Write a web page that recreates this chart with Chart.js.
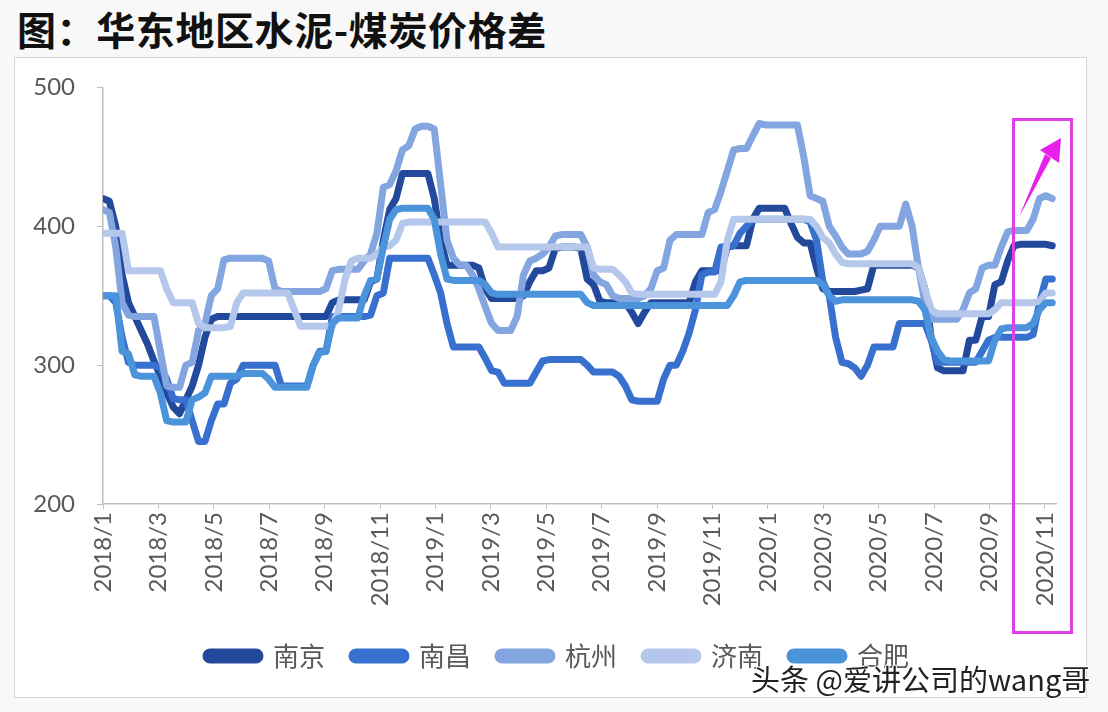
<!DOCTYPE html>
<html>
<head>
<meta charset="utf-8">
<script src="https://cdn.jsdelivr.net/npm/chart.js@4/dist/chart.umd.min.js"></script>
<style>
  body { margin: 0; background: #f8f8f8; width: 1108px; height: 712px; overflow: hidden; position: relative; }
  #title { position: absolute; left: 17px; top: 9px; font: bold 39px "Noto Sans CJK SC", sans-serif; line-height: 1; color: #111; letter-spacing: 0.6px; }
  #box { position: absolute; left: 14px; top: 57px; width: 1073px; height: 641px; border: 1px solid #d4d4d4; box-sizing: border-box; background: #fff; }
  #chart { position: absolute; left: 0; top: -7px; }
  #mark { position: absolute; left: 0; top: 0; }
  #wm { position: absolute; left: 751px; top: 661px; font: 29px "Noto Sans CJK SC", sans-serif; color: #222; line-height: 1.2;
        text-shadow: -1px -1px 0 #fff, 1px -1px 0 #fff, -1px 1px 0 #fff, 1px 1px 0 #fff; }
</style>
</head>
<body>
<div id="title">图：华东地区水泥-煤炭价格差</div>
<div id="box"><canvas id="chart" width="1071" height="646"></canvas></div>
<svg id="mark" width="1108" height="712">
  <rect x="1013.5" y="119.5" width="58" height="513" fill="none" stroke="#df3fe6" stroke-width="3"/>
  <polygon points="1019,217 1045,154 1051,158" fill="#e91fec"/>
  <polygon points="1061,138 1040,150 1059,163" fill="#e91fec"/>
</svg>
<div id="wm">头条 @爱讲公司的wang哥</div>
<script>
// 周度数据，2018年1月第一周起
const cities = ['南京', '南昌', '杭州', '济南', '合肥'];
const colors = ['#22499b', '#3870cf', '#83a5e0', '#b5c8eb', '#4b94dc'];
const monthTicks = ['2018/1', '2018/3', '2018/5', '2018/7', '2018/9', '2018/11',
    '2019/1', '2019/3', '2019/5', '2019/7', '2019/9', '2019/11',
    '2020/1', '2020/3', '2020/5', '2020/7', '2020/9', '2020/11'];

const nanjing = [
    420, 418, 400, 365, 345, 335, 325, 315, 303, 292,
    280, 270, 265, 275, 285, 300, 320, 333, 335, 335,
    335, 335, 335, 335, 335, 335, 335, 335, 335, 335,
    335, 335, 335, 335, 335, 335, 345, 347, 347, 347,
    347, 347, 360, 362, 390, 412, 420, 438, 438, 438,
    438, 438, 420, 390, 372, 372, 372, 372, 372, 370,
    355, 348, 348, 348, 348, 348, 350, 360, 368, 368,
    370, 384, 385, 385, 385, 384, 362, 358, 346, 345,
    345, 345, 345, 338, 330, 338, 345, 345, 345, 345,
    345, 345, 345, 360, 368, 368, 368, 368, 385, 386,
    386, 386, 405, 413, 413, 413, 413, 413, 402, 392,
    388, 388, 370, 355, 353, 353, 353, 353, 353, 354,
    355, 372, 372, 372, 372, 372, 372, 372, 370, 355,
    320, 298, 296, 296, 296, 296, 318, 318, 335, 335,
    358, 360, 375, 386, 387, 387, 387, 387, 387, 386
];
const nanchang = [
    350, 350, 345, 320, 302, 300, 300, 300, 300, 298,
    290, 276, 275, 275, 260, 245, 245, 260, 272, 272,
    287, 290, 300, 300, 300, 300, 300, 300, 285, 285,
    285, 285, 285, 300, 310, 310, 335, 335, 335, 335,
    335, 335, 336, 350, 352, 377, 377, 377, 377, 377,
    377, 377, 365, 352, 330, 313, 313, 313, 313, 313,
    305, 296, 295, 287, 287, 287, 287, 287, 295, 303,
    304, 304, 304, 304, 304, 304, 300, 295, 295, 295,
    295, 292, 285, 275, 274, 274, 274, 274, 290, 300,
    300, 310, 323, 340, 365, 367, 367, 385, 386, 386,
    395, 400, 405, 405, 405, 405, 405, 405, 405, 405,
    405, 403, 390, 360, 350, 320, 302, 301, 298, 292,
    300, 313, 313, 313, 313, 330, 330, 330, 330, 330,
    318, 302, 302, 302, 302, 302, 302, 302, 310, 318,
    320, 320, 320, 320, 320, 320, 322, 345, 362, 362
];
const hangzhou = [
    412, 410, 385, 345, 336, 335, 335, 335, 335, 310,
    285, 284, 284, 300, 302, 325, 330, 350, 355, 376,
    377, 377, 377, 377, 377, 377, 375, 355, 353, 353,
    353, 353, 353, 353, 353, 355, 368, 369, 369, 369,
    369, 375, 380, 395, 428, 430, 440, 455, 458, 470,
    472, 472, 470, 430, 390, 377, 372, 372, 365, 355,
    342, 330, 325, 325, 325, 335, 365, 375, 377, 380,
    385, 393, 394, 394, 394, 394, 385, 365, 360, 358,
    350, 348, 348, 348, 348, 350, 355, 368, 370, 390,
    394, 394, 394, 394, 394, 410, 412, 425, 440, 455,
    456, 456, 465, 474, 473, 473, 473, 473, 473, 473,
    450, 422, 420, 418, 400, 393, 385, 380, 380, 380,
    382, 390, 400, 400, 400, 400, 416, 400, 370, 345,
    333, 333, 333, 333, 333, 340, 352, 355, 370, 372,
    372, 385, 396, 397, 397, 397, 405, 420, 422, 420
];
const jinan = [
    395, 395, 395, 395, 368, 368, 368, 368, 368, 368,
    355, 345, 345, 345, 345, 330, 327, 327, 327, 327,
    328, 345, 352, 352, 352, 352, 352, 352, 352, 352,
    340, 328, 328, 328, 328, 328, 328, 340, 362, 375,
    377, 377, 377, 380, 385, 386, 390, 402, 403, 403,
    403, 403, 403, 403, 403, 403, 403, 403, 403, 403,
    403, 395, 385, 385, 385, 385, 385, 385, 385, 385,
    385, 385, 385, 385, 385, 385, 385, 370, 369, 369,
    369, 365, 360, 352, 351, 351, 351, 351, 351, 351,
    351, 351, 351, 351, 351, 351, 351, 360, 390, 405,
    405, 405, 405, 405, 405, 405, 405, 405, 405, 405,
    405, 405, 400, 392, 388, 380, 374, 373, 373, 373,
    373, 373, 373, 373, 373, 373, 373, 373, 370, 355,
    340, 337, 337, 337, 337, 337, 337, 337, 337, 337,
    340, 345, 345, 345, 345, 345, 345, 346, 352, 352
];
const hefei = [
    350, 350, 350, 310, 308, 293, 292, 292, 292, 280,
    260, 259, 259, 259, 275, 277, 280, 292, 292, 292,
    292, 292, 294, 294, 294, 294, 290, 284, 284, 284,
    284, 284, 284, 300, 309, 310, 330, 334, 334, 334,
    334, 350, 361, 362, 385, 405, 412, 413, 413, 413,
    413, 413, 405, 380, 362, 361, 361, 361, 361, 361,
    358, 352, 351, 351, 351, 351, 351, 351, 351, 351,
    351, 351, 351, 351, 351, 351, 345, 343, 343, 343,
    343, 343, 343, 343, 343, 343, 343, 343, 343, 343,
    343, 343, 343, 343, 343, 343, 343, 343, 343, 350,
    360, 361, 361, 361, 361, 361, 361, 361, 361, 361,
    361, 361, 361, 358, 350, 346, 347, 347, 347, 347,
    347, 347, 347, 347, 347, 347, 347, 347, 346, 340,
    320, 310, 304, 303, 303, 303, 303, 303, 303, 303,
    318, 326, 327, 327, 327, 327, 330, 340, 345, 345
];

const series = [nanjing, nanchang, hangzhou, jinan, hefei];

// 周序号换算成月份（x 轴以月计）
function toPoints(values) {
    return values.map((v, i) => ({ x: i * 7 / 30.44, y: v }));
}

const tickFont = { family: 'Lato, "Noto Sans CJK SC", sans-serif', size: 24 };

const datasets = series.map((values, i) => ({
    label: cities[i],
    data: toPoints(values),
    borderColor: colors[i],
    backgroundColor: colors[i],
    borderWidth: 7,
    pointRadius: 0,
    tension: 0,
    borderJoinStyle: 'round',
    borderCapStyle: 'round',
    order: series.length - i
}));

// 图例整体右移一点，和原图对齐
const legendShift = {
    id: 'legendShift',
    afterLayout(chart) {
        chart.legend.left += 22;
        chart.legend.right += 22;
    }
};

const grafico = document.getElementById('chart');
new Chart(grafico, {
    type: 'line',
    data: { datasets: datasets },
    plugins: [legendShift],
    options: {
        responsive: false,
        animation: false,
        layout: { padding: { left: 0, right: 30, top: 23, bottom: 18 } },
        scales: {
            x: {
                type: 'linear',
                min: 0,
                max: 34.4,
                grid: { drawOnChartArea: false, color: '#bfbfbf', tickLength: 5 },
                border: { color: '#bfbfbf', width: 1.5 },
                ticks: {
                    stepSize: 2,
                    includeBounds: false,
                    autoSkip: false,
                    minRotation: 90,
                    maxRotation: 90,
                    padding: 3,
                    color: '#595959',
                    font: tickFont,
                    callback: (value) => monthTicks[value / 2]
                },
                afterFit: (scale) => { scale.height = 112; }
            },
            y: {
                min: 200,
                max: 500,
                grid: { drawOnChartArea: false, color: '#bfbfbf', tickLength: 6 },
                border: { color: '#bfbfbf', width: 1.5 },
                ticks: { stepSize: 100, padding: 22, color: '#595959', font: tickFont },
                afterFit: (scale) => { scale.width = 88; }
            }
        },
        plugins: {
            tooltip: { enabled: false },
            legend: {
                position: 'bottom',
                labels: {
                    boxWidth: 54,
                    boxHeight: 8,
                    useBorderRadius: true,
                    borderRadius: 4,
                    padding: 27,
                    color: '#595959',
                    font: { family: '"Noto Sans CJK SC", sans-serif', size: 26 },
                    sort: (a, b) => a.datasetIndex - b.datasetIndex
                }
            }
        }
    }
});
</script>
</body>
</html>
